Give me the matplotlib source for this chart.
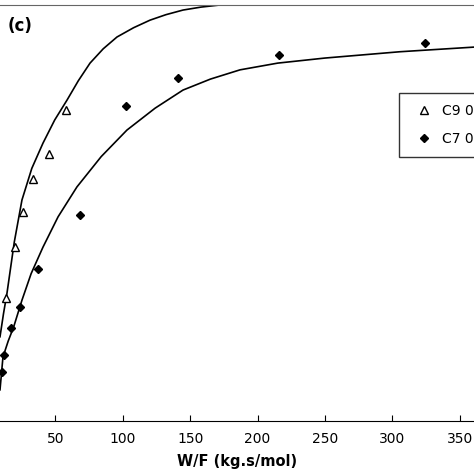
import matplotlib
matplotlib.use("Agg")
import matplotlib.pyplot as plt

c9_x = [13.4, 20.0, 26.0, 33.4, 45.3, 57.9]
c9_y = [0.292, 0.413, 0.496, 0.575, 0.634, 0.739]
c7_x = [10.4, 11.9, 17.1, 23.7, 37.1, 68.2, 102.4, 141.0, 216.0, 324.3]
c7_y = [0.116, 0.157, 0.221, 0.271, 0.361, 0.489, 0.748, 0.815, 0.869, 0.898]
c9_fit_x = [8.9, 11.5, 14.1, 19.5, 25.2, 32.5, 40.8, 49.5, 58.6, 67.0, 75.7, 85.5, 95.7, 108.0, 120.2, 132.0, 144.7, 158.0, 172.0]
c9_fit_y = [0.200, 0.255, 0.304, 0.425, 0.525, 0.600, 0.660, 0.715, 0.762, 0.808, 0.850, 0.884, 0.912, 0.934, 0.952, 0.965, 0.976, 0.983, 0.988]
c7_fit_x = [8.9, 11.1, 15.0, 19.0, 25.2, 32.0, 40.8, 52.0, 66.0, 84.0, 103.1, 124.0, 144.7, 165.0, 187.0, 215.0, 250.0, 305.7, 360.6]
c7_fit_y = [0.074, 0.152, 0.190, 0.223, 0.287, 0.350, 0.413, 0.485, 0.556, 0.628, 0.691, 0.743, 0.786, 0.812, 0.834, 0.850, 0.862, 0.877, 0.888]
xticks = [50, 100, 150, 200, 250, 300, 350]

fig = plt.figure(figsize=(4.74, 4.74), dpi=100)
ax = fig.add_axes([0, 53/474, 1, 416/474])
ax.plot(c9_fit_x, c9_fit_y, color="black", lw=1.2)
ax.plot(c7_fit_x, c7_fit_y, color="black", lw=1.2)
ax.plot(c9_x, c9_y, ls="none", marker="^", mfc="white", mec="black", ms=6, label="C9 0.3 bar")
ax.plot(c7_x, c7_y, ls="none", marker="D", mfc="black", mec="black", ms=4.5, label="C7 0.3 bar")
ax.set_xlim(8.9, 360.6)
ax.set_ylim(0, 0.988)
ax.set_xticks(xticks)
ax.set_yticks([])
for s in ["right", "left"]:
    ax.spines[s].set_visible(False)
ax.spines["top"].set_color("#666666")
ax.tick_params(axis="x", direction="in", length=4, labelsize=10, pad=8)
ax.set_xlabel("W/F (kg.s/mol)", fontweight="bold", fontsize=10.5, labelpad=6)
fig.legend(loc="upper left", bbox_to_anchor=(392/474, 1 - 86/474), frameon=True,
           fancybox=False, edgecolor="black", fontsize=10, handletextpad=0.3,
           labelspacing=1.0, borderpad=0.8)
fig.text(8/474, 1 - 26/474, "(c)", fontweight="bold", fontsize=12, va="center")
fig.savefig("out.png", dpi=100)
